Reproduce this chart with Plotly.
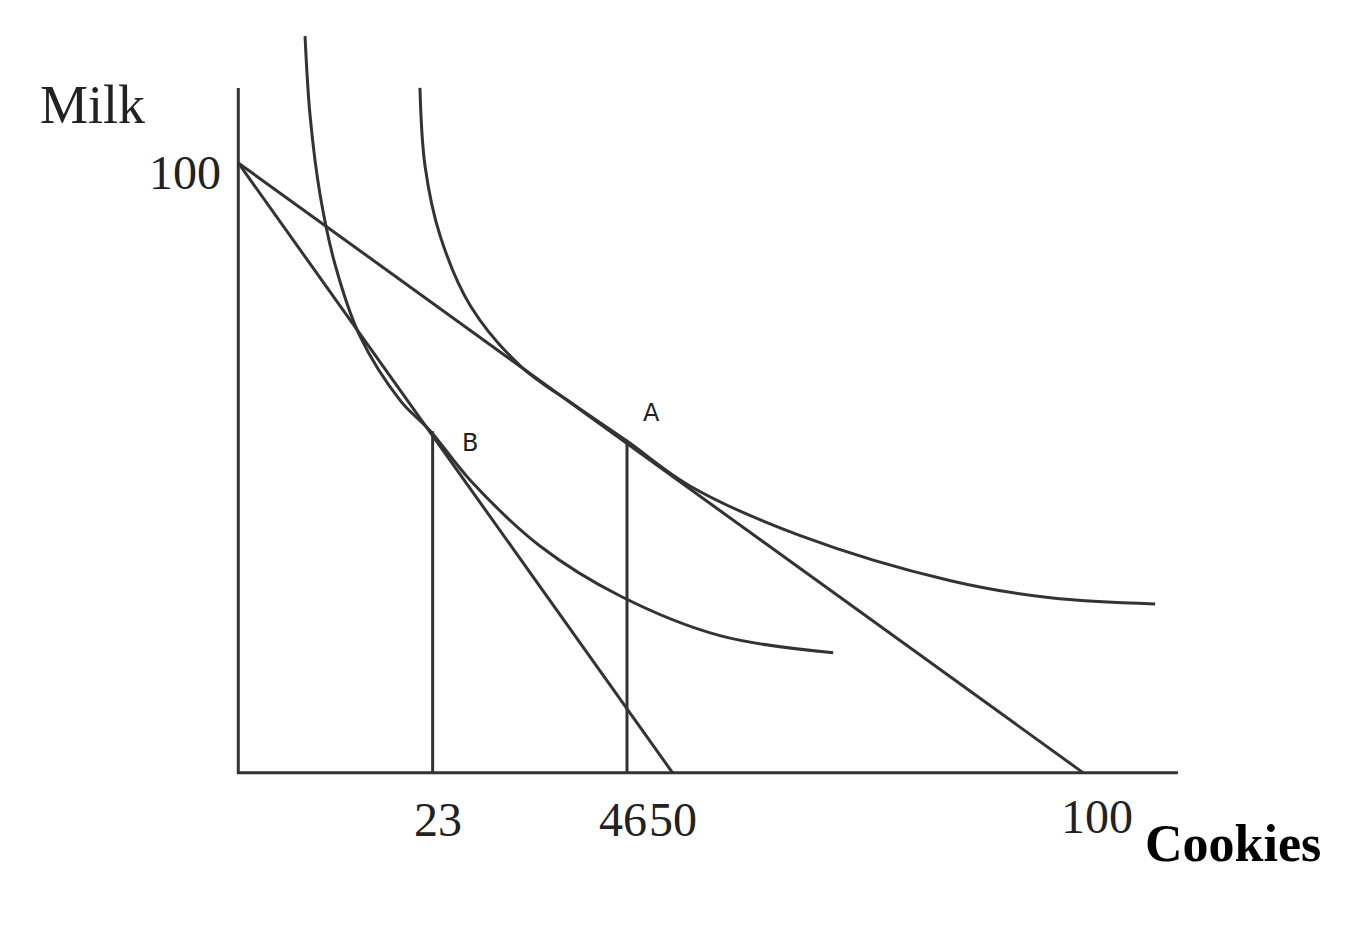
import plotly.graph_objects as go

# budget lines (cookies, milk)
budget_wide_x = [0, 100]
budget_wide_y = [100, 0]
budget_narrow_x = [0, 51.4]
budget_narrow_y = [100, 0]

# indifference curves
ic_high_x = [21.5, 22.1, 23.9, 27.5, 33.4, 39.9, 46.0, 53.5, 66.5, 84.3, 96.1, 108.5]
ic_high_y = [112.3, 99.5, 88.0, 76.5, 66.7, 60.2, 54.4, 47.0, 38.9, 31.5, 28.7, 27.7]
ic_low_x = [7.9, 8.5, 9.7, 11.5, 14.4, 19.2, 22.7, 27.5, 35.7, 45.2, 57.0, 70.4]
ic_low_y = [120.8, 107.7, 94.6, 83.1, 71.6, 61.0, 56.1, 47.9, 37.2, 29.0, 22.5, 19.7]

# optimum points
point_a = (46, 54.4)
point_b = (23, 56)

x_ticks = ["23", "46", "50", "100"]

col = "#333333"
fig = go.Figure()

def line(x, y, shape="linear"):
    fig.add_trace(go.Scatter(x=x, y=y, mode="lines", showlegend=False, hoverinfo="skip",
                             line=dict(color=col, width=3, shape=shape, smoothing=1.0)))

# axes
line([0, 0, 111.2], [112.3, 0, 0])
line(budget_wide_x, budget_wide_y)
line(budget_narrow_x, budget_narrow_y)
line(ic_high_x, ic_high_y, "spline")
line(ic_low_x, ic_low_y, "spline")
line([point_a[0], point_a[0]], [0, point_a[1]])
line([point_b[0], point_b[0]], [0, point_b[1]])

serif = "Liberation Serif"
def text(x, y, s, size, fam=serif, bold=False, xa="center"):
    fig.add_annotation(x=x, y=y, text=f"<b>{s}</b>" if bold else s, showarrow=False, xanchor=xa,
                       font=dict(family=fam, size=size, color="#222222" if not bold else "black"))

text(-17.2, 109.5, "Milk", 54)
text(-6.3, 98.5, "100", 48)
text(23.6, -7.7, x_ticks[0], 48)
text(45.5, -7.7, x_ticks[1], 48)
text(51.5, -7.7, x_ticks[2], 48)
text(101.6, -7.2, x_ticks[3], 48)
text(117.7, -11.5, "Cookies", 52, bold=True)
text(48.9, 59.0, "A", 24, "DejaVu Sans")
text(27.4, 54.1, "B", 24, "DejaVu Sans")

fig.update_layout(width=1358, height=932, margin=dict(l=0, r=0, t=0, b=0),
                  plot_bgcolor="white", paper_bgcolor="white",
                  xaxis=dict(range=[-27.25, 133.45], visible=False, fixedrange=True),
                  yaxis=dict(range=[-27.4, 125.4], visible=False, fixedrange=True))
fig.write_html("out.html")
